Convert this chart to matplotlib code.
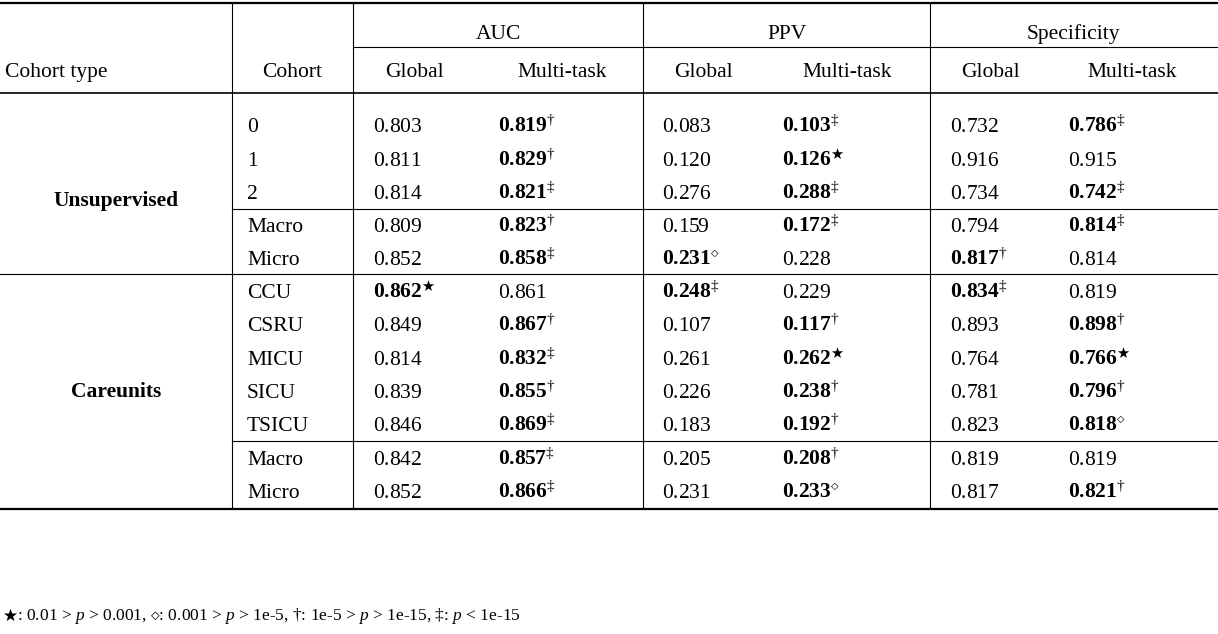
import matplotlib.pyplot as plt

plt.rcParams['mathtext.fontset'] = 'custom'
plt.rcParams['mathtext.rm'] = 'Liberation Serif'
plt.rcParams['mathtext.it'] = 'Liberation Serif:italic'
plt.rcParams['mathtext.bf'] = 'Liberation Serif:bold'

cohorts = ['0', '1', '2', 'Macro', 'Micro',
           'CCU', 'CSRU', 'MICU', 'SICU', 'TSICU', 'Macro', 'Micro']
auc_global = ['0.803', '0.811', '0.814', '0.809', '0.852', '0.862', '0.849', '0.814', '0.839', '0.846', '0.842', '0.852']
auc_multi = ['0.819', '0.829', '0.821', '0.823', '0.858', '0.861', '0.867', '0.832', '0.855', '0.869', '0.857', '0.866']
ppv_global = ['0.083', '0.120', '0.276', '0.159', '0.231', '0.248', '0.107', '0.261', '0.226', '0.183', '0.205', '0.231']
ppv_multi = ['0.103', '0.126', '0.288', '0.172', '0.228', '0.229', '0.117', '0.262', '0.238', '0.192', '0.208', '0.233']
spec_global = ['0.732', '0.916', '0.734', '0.794', '0.817', '0.834', '0.893', '0.764', '0.781', '0.823', '0.819', '0.817']
spec_multi = ['0.786', '0.915', '0.742', '0.814', '0.814', '0.819', '0.898', '0.766', '0.796', '0.818', '0.819', '0.821']
# significance marks ('' = not bold); s=star, d=diamond, t=dagger, tt=double dagger
auc_global_m = ['', '', '', '', '', 's', '', '', '', '', '', '']
auc_multi_m = ['t', 't', 'tt', 't', 'tt', '', 't', 'tt', 't', 'tt', 'tt', 'tt']
ppv_global_m = ['', '', '', '', 'd', 'tt', '', '', '', '', '', '']
ppv_multi_m = ['tt', 's', 'tt', 'tt', '', '', 't', 's', 't', 't', 't', 'd']
spec_global_m = ['', '', '', '', 't', 'tt', '', '', '', '', '', '']
spec_multi_m = ['tt', '', 'tt', 'tt', '', '', 't', 's', 't', 'd', '', 't']

sym = {'s': r'\bigstar', 'd': r'\diamond', 't': r'\dagger', 'tt': r'\ddagger'}

fig = plt.figure(figsize=(12.18, 6.34), dpi=100)
ax = fig.add_axes([0, 0, 1, 1])
ax.set_xlim(0, 1218)
ax.set_ylim(634, 0)
ax.axis('off')

fs = 15.5
font = 'Liberation Serif'
dy = 7  # baseline offset from row centre

def txt(x, y, s, ha='left', **kw):
    ax.text(x, y + dy, s, fontsize=fs, family=font, ha=ha, va='baseline', **kw)

def cell(x, y, val, mark):
    if mark:
        s = r'$\mathbf{' + val + r'}^{' + sym[mark] + r'}$'
    else:
        s = r'$\mathrm{' + val + r'}$'
    ax.text(x, y + dy, s, fontsize=fs, va='baseline', ha='left')

# rules
ax.plot([0, 1218], [3, 3], color='k', lw=1.6)
ax.plot([353, 1218], [47, 47], color='k', lw=0.8)
ax.plot([0, 1218], [93, 93], color='k', lw=1.2)
ax.plot([232, 1218], [209, 209], color='k', lw=0.8)
ax.plot([0, 1218], [274, 274], color='k', lw=0.8)
ax.plot([232, 1218], [441, 441], color='k', lw=0.8)
ax.plot([0, 1218], [509, 509], color='k', lw=1.6)
for xv in [232, 353, 643, 930]:
    ax.plot([xv, xv], [3, 509], color='k', lw=0.8)

# headers
txt(498, 32, 'AUC', ha='center')
txt(787, 32, 'PPV', ha='center')
txt(1073, 32, 'Specificity', ha='center')
txt(5, 70, 'Cohort type')
txt(292, 70, 'Cohort', ha='center')
for xg, xm in [(414, 562), (703, 847), (990, 1132)]:
    txt(xg, 70, 'Global', ha='center')
    txt(xm, 70, 'Multi-task', ha='center')

txt(116, 199, 'Unsupervised', ha='center', weight='bold')
txt(116, 390, 'Careunits', ha='center', weight='bold')

row_y = [125, 159, 192, 225, 258, 291, 324, 358, 391, 424, 458, 491]
cols = [(373, auc_global, auc_global_m), (498, auc_multi, auc_multi_m),
        (662, ppv_global, ppv_global_m), (782, ppv_multi, ppv_multi_m),
        (950, spec_global, spec_global_m), (1068, spec_multi, spec_multi_m)]
for i, y in enumerate(row_y):
    txt(247, y, cohorts[i])
    for x, vals, marks in cols:
        cell(x, y, vals[i], marks[i])

ax.text(2, 620, r'$\bigstar$: 0.01 > $p$ > 0.001, $\diamond$: 0.001 > $p$ > 1e-5, '
        r'$\dagger$: 1e-5 > $p$ > 1e-15, $\ddagger$: $p$ < 1e-15',
        fontsize=12.5, family=font, ha='left', va='baseline')

fig.savefig('out.png', dpi=100, facecolor='white')
